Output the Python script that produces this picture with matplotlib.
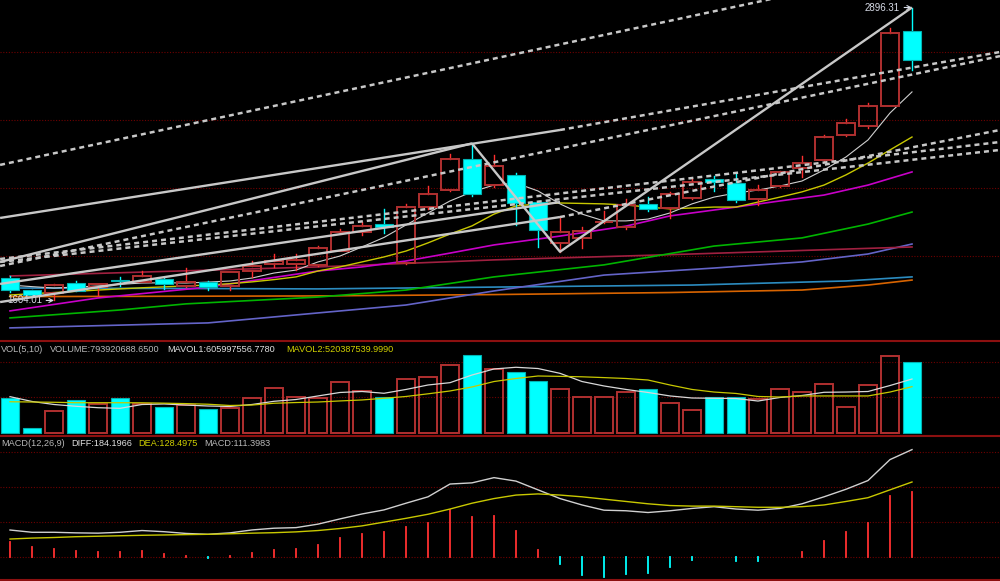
import matplotlib
matplotlib.use("Agg")
import matplotlib.pyplot as plt
from matplotlib.patches import Rectangle

# ---------------- data ----------------
opens = [1702, 1650, 1636, 1680, 1662, 1692, 1687, 1700, 1668, 1687,
         1668, 1735, 1765, 1765, 1760, 1823, 1905, 1940, 1768, 2018,
         2091, 2227, 2113, 2158, 2037, 1856, 1878, 1950, 1930, 2030,
         2011, 2055, 2140, 2124, 2051, 2109, 2187, 2224, 2334, 2375,
         2463, 2794]
highs = [1712, 1652, 1675, 1691, 1678, 1709, 1734, 1702, 1746, 1690,
         1730, 1777, 1809, 1809, 1846, 1919, 1949, 2007, 2030, 2109,
         2250, 2297, 2246, 2168, 2040, 1967, 1929, 2000, 2050, 2062,
         2084, 2139, 2153, 2162, 2113, 2175, 2241, 2334, 2403, 2474,
         2805, 2896.31]
lows = [1640, 1626, 1604.01, 1645, 1628, 1668, 1684, 1655, 1665, 1650,
        1650, 1709, 1750, 1738, 1757, 1820, 1893, 1900, 1765, 2006,
        2085, 2065, 2105, 1937, 1839, 1819, 1834, 1947, 1918, 2000,
        1967, 2050, 2088, 2037, 2025, 2105, 2150, 2220, 2330, 2364,
        2462, 2621]
closes = [1650, 1628, 1672, 1647, 1677, 1690, 1712, 1677, 1687, 1665,
          1728, 1756, 1779, 1782, 1837, 1905, 1934, 1929, 2016, 2072,
          2227, 2072, 2197, 2033, 1915, 1905, 1911, 1952, 2025, 2006,
          2072, 2128, 2128, 2047, 2092, 2169, 2209, 2324, 2386, 2463,
          2783, 2665]

ma5 = [1672, 1665, 1659, 1663, 1668, 1675, 1681, 1682, 1681, 1685,
       1690, 1703, 1725, 1738, 1774, 1800, 1840, 1882, 1937, 1990,
       2043, 2083, 2113, 2122, 2087, 2030, 1985, 1955, 1955, 1963,
       1990, 2030, 2060, 2078, 2091, 2109, 2131, 2180, 2237, 2312,
       2431, 2524]
ma10 = [1628, 1634, 1639, 1644, 1650, 1655, 1660, 1664, 1668, 1672,
        1678, 1686, 1696, 1708, 1734, 1752, 1774, 1796, 1822, 1858,
        1897, 1933, 1985, 2021, 2030, 2034, 2032, 2030, 2025, 2016,
        2008, 2012, 2016, 2016, 2038, 2060, 2083, 2113, 2158, 2210,
        2268, 2325]
ma20_x = [0, 4, 9, 14, 16, 18, 20, 22, 25, 28, 30, 33, 35, 37, 39, 41]
ma20 = [1558, 1615, 1663, 1734, 1752, 1778, 1813, 1849, 1888, 1932,
        1977, 2016, 2043, 2069, 2113, 2171]
ma30_x = [0, 5, 8, 14, 18, 22, 27, 32, 36, 39, 41]
ma30 = [1527, 1562, 1589, 1619, 1650, 1708, 1761, 1844, 1880, 1941, 1994]
ma60_x = [0, 14, 22, 31, 41]
ma60 = [1712, 1752, 1783, 1809, 1840]
ma120_x = [0, 9, 14, 18, 22, 27, 32, 36, 39, 41]
ma120 = [1483, 1505, 1549, 1584, 1646, 1716, 1747, 1774, 1809, 1853]
ma250_x = [0, 14, 22, 31, 38, 41]
ma250 = [1659, 1655, 1663, 1672, 1690, 1708]
ma500_x = [0, 14, 22, 30, 36, 39, 41]
ma500 = [1621, 1624, 1630, 1639, 1650, 1672, 1694]

volume = [396, 53, 247, 371, 326, 396, 326, 289, 314, 266,
          277, 390, 502, 401, 390, 576, 472, 408, 603, 632,
          764, 873, 719, 685, 587, 491, 401, 408, 464, 491,
          340, 258, 408, 408, 378, 491, 464, 547, 289, 536,
          865, 793.92068865]                     # millions
mavol1 = [408, 354, 320, 300, 284, 277, 320, 326, 314, 303,
          298, 320, 356, 376, 416, 455, 466, 446, 489, 539,
          565, 651, 719, 738, 724, 670, 578, 528, 489, 455,
          416, 393, 390, 387, 359, 399, 421, 457, 460, 466,
          533, 605.9975567780]
mavol2 = [351, 348, 345, 340, 340, 340, 339, 335, 330, 323,
          309, 314, 334, 342, 348, 360, 371, 390, 410, 440,
          472, 517, 578, 612, 640, 636, 631, 622, 612, 595,
          539, 489, 460, 444, 410, 404, 416, 416, 416, 416,
          460, 520.3875399990]

diff = [45.9, 42, 42, 41, 40.5, 42, 45, 43, 40, 38.5,
        41, 46, 49, 50, 56, 65, 73.5, 80.5, 92, 103,
        125, 127, 136, 130, 115, 100, 89, 80, 79, 76,
        79, 83, 86, 82, 80, 83, 91, 103, 116, 131,
        167, 184.1966]
dea = [30.4, 32, 33, 34.4, 35.2, 36, 36.8, 37.4, 38, 38.5,
       39.4, 40.5, 41.3, 42.7, 45, 48.5, 53, 59.5, 66, 73,
       82, 92, 100, 106, 108, 106, 103, 99, 95, 91,
       88, 87, 87, 86, 85, 85, 86, 89, 95, 101.5,
       115, 128.4975]
macd = [25.8, 16.6, 13.2, 9.7, 8.0, 8.0, 9.7, 4.6, 1.1, -2.9,
        1.1, 6.9, 11.5, 12.6, 20.1, 31.5, 39, 42.4, 50.4, 57.9,
        80.3, 67.7, 70.5, 44.7, 11.5, -13.2, -31, -34.4, -29.2, -28.1,
        -18.3, -6.3, -1.1, -7.5, -7.5, -0.6, 8.6, 26.4, 42.4, 58.5,
        104.9, 111.3983]

# hand-drawn trend lines: (index, price) vertices
solid_lines = [
    [(-0.45, 1968), (25, 2356)],
    [(-0.45, 1774), (21, 2297)],
    [(21, 2297), (25, 1819), (41, 2896.31)],
    [(-0.45, 1677), (25, 2038)],
    [(-0.45, 1597), (25, 1972)],
]
dashed_lines = [
    [(-0.45, 2202), (45, 3151)],
    [(-0.45, 1756), (45, 2682)],
    [(-0.45, 1787), (45, 2303)],
    [(25, 2356), (45, 2700)],
    [(-0.45, 1774), (45, 2268)],
    [(25, 1972), (45, 2356)],
]

price_grid = [1800, 2100, 2400, 2700]
vol_grid = [400, 800]
macd_grid = [0, 60, 120, 180]

# ---------------- figure ----------------
W, H = 1000, 581
BG = "#000000"
RED_EDGE = "#b03030"
RED_WICK = "#ff3030"
CYAN = "#00ffff"
GRID = "#6e0000"
SEP = "#8c1010"
LINE_GRAY = "#c8c8c8"

fig = plt.figure(figsize=(W / 100, H / 100), dpi=100, facecolor=BG)


def panel(top, bottom):
    ax = fig.add_axes([0, 1 - bottom / H, 1, (bottom - top) / H])
    ax.set_facecolor(BG)
    for s in ax.spines.values():
        s.set_visible(False)
    ax.set_xticks([])
    ax.set_yticks([])
    ax.set_xlim(-10 / 22, 990 / 22)
    return ax


ax_p = panel(0, 341)
ax_v = panel(341, 436)
ax_m = panel(436, 581)

ax_p.set_ylim(1425.2, 2929.4)
ax_v.set_ylim(-33.7, 1033)
ax_m.set_ylim(-41.8, 207.6)

for g in price_grid:
    ax_p.axhline(g, color=GRID, lw=0.8, ls=(0, (1, 1.5)), zorder=0)
for g in vol_grid:
    ax_v.axhline(g, color=GRID, lw=0.8, ls=(0, (1, 1.5)), zorder=0)
for g in macd_grid:
    ax_m.axhline(g, color=GRID, lw=0.8, ls=(0, (1, 1.5)), zorder=0)

BW = 0.86
idx = list(range(len(closes)))

# candles
for i in idx:
    o, h, l, c = opens[i], highs[i], lows[i], closes[i]
    top, bot = max(o, c), min(o, c)
    if c >= o:
        ax_p.plot([i, i], [top, h], color=RED_WICK, lw=1.0, zorder=3)
        ax_p.plot([i, i], [l, bot], color=RED_WICK, lw=1.0, zorder=3)
        ax_p.add_patch(Rectangle((i - BW / 2, bot), BW, max(top - bot, 2),
                                 fill=False, edgecolor=RED_EDGE, lw=1.4, zorder=3))
    else:
        ax_p.plot([i, i], [l, h], color=CYAN, lw=1.0, zorder=3)
        ax_p.add_patch(Rectangle((i - BW / 2, bot), BW, max(top - bot, 4),
                                 facecolor=CYAN, edgecolor="#00b4b4", lw=0.8, zorder=3))

# moving averages
ax_p.plot(ma500_x, ma500, color="#d86400", lw=1.2, zorder=2)
ax_p.plot(ma250_x, ma250, color="#2c8cc0", lw=1.2, zorder=2)
ax_p.plot(ma120_x, ma120, color="#6464c8", lw=1.2, zorder=2)
ax_p.plot(ma60_x, ma60, color="#a02040", lw=1.2, zorder=2)
ax_p.plot(ma30_x, ma30, color="#00b400", lw=1.2, zorder=2)
ax_p.plot(ma20_x, ma20, color="#c800c8", lw=1.2, zorder=2)
ax_p.plot(idx, ma10, color="#c8c800", lw=1.0, zorder=2)
ax_p.plot(idx, ma5, color="#d0d0d0", lw=0.8, zorder=2)

for seg in solid_lines:
    xs, ys = zip(*seg)
    ax_p.plot(xs, ys, color=LINE_GRAY, lw=1.7, zorder=4, solid_capstyle="butt")
for seg in dashed_lines:
    xs, ys = zip(*seg)
    ax_p.plot(xs, ys, color=LINE_GRAY, lw=1.8, ls=(0, (2.0, 1.6)), zorder=4)

# extreme price marks
i_hi = highs.index(max(highs))
i_lo = lows.index(min(lows))
for i_ext, val in ((i_hi, highs[i_hi]), (i_lo, lows[i_lo])):
    ax_p.annotate(f"{val:.2f}", xy=(i_ext, val), xytext=(-12, 0),
                  textcoords="offset pixels", ha="right", va="center",
                  color="#d8dce8", fontsize=7, family="Liberation Sans",
                  arrowprops=dict(arrowstyle="->", color="#d8dce8", lw=0.8,
                                  shrinkA=1, shrinkB=0))

# volume
for i in idx:
    up = closes[i] >= opens[i]
    if up:
        ax_v.add_patch(Rectangle((i - BW / 2, 0), BW, volume[i], fill=False,
                                 edgecolor=RED_EDGE, lw=1.4, zorder=3))
    else:
        ax_v.add_patch(Rectangle((i - BW / 2, 0), BW, volume[i], facecolor=CYAN,
                                 edgecolor="#00b4b4", lw=0.8, zorder=3))
ax_v.plot(idx, mavol1, color="#d8d8d8", lw=0.9, zorder=4)
ax_v.plot(idx, mavol2, color="#c8c800", lw=0.9, zorder=4)

# MACD
for i in idx:
    col = RED_WICK if macd[i] >= 0 else CYAN
    ax_m.plot([i, i], [0, macd[i]], color=col, lw=1.3, zorder=3)
ax_m.plot(idx, diff, color="#d0d0d0", lw=1.0, zorder=4)
ax_m.plot(idx, dea, color="#c8c800", lw=1.0, zorder=4)

# panel separators
for y in (341, 436, 580):
    fig.add_artist(plt.Line2D([0, 1], [1 - y / H, 1 - y / H], color=SEP, lw=1.5))

# indicator captions
FONT = dict(family="Liberation Sans", fontsize=6.6, va="center", ha="left")


def caption(x, y, s, color):
    fig.text(x / W, 1 - y / H, s, color=color, **FONT)


caption(1, 349.5, "VOL(5,10)", "#b8b8b8")
caption(50, 349.5, f"VOLUME:{volume[-1] * 1e6:.4f}", "#b8b8b8")
caption(167, 349.5, f"MAVOL1:{mavol1[-1] * 1e6:.4f}", "#e0e0e0")
caption(286, 349.5, f"MAVOL2:{mavol2[-1] * 1e6:.4f}", "#d0d000")

caption(1, 444, "MACD(12,26,9)", "#b8b8b8")
caption(71, 444, f"DIFF:{diff[-1]:.4f}", "#e0e0e0")
caption(138, 444, f"DEA:{dea[-1]:.4f}", "#d0d000")
caption(204, 444, f"MACD:{macd[-1]:.4f}", "#b8b8b8")

fig.savefig("out.png", dpi=100, facecolor=BG)
